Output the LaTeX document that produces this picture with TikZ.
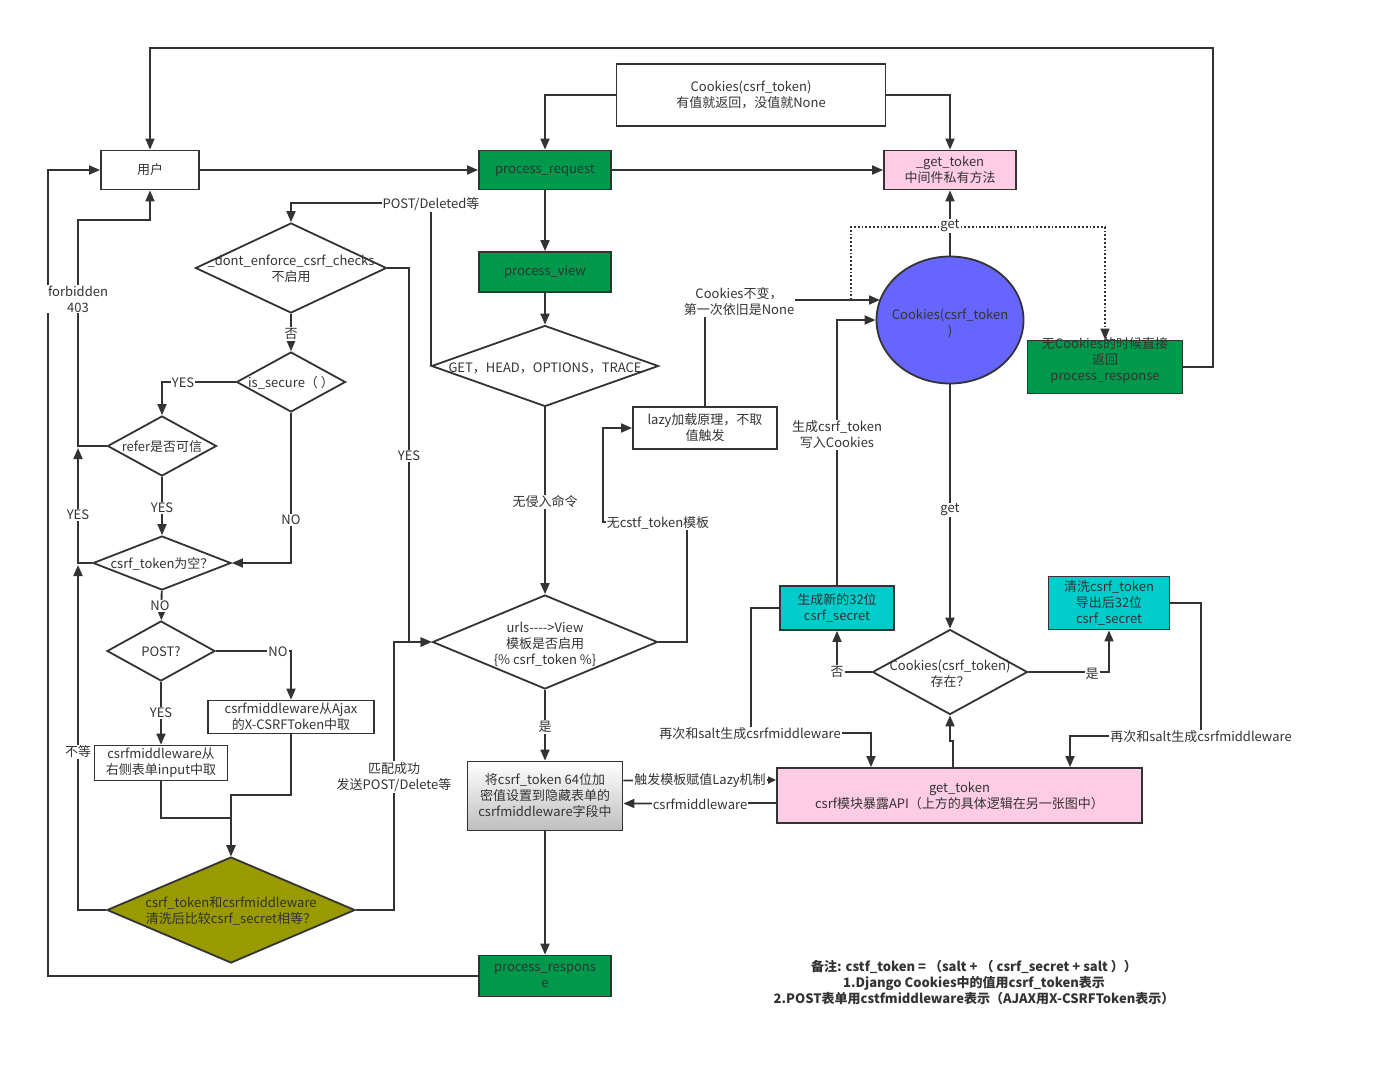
\documentclass[tikz,border=0pt]{standalone}
\usepackage{fontspec}
\setmainfont{Noto Sans CJK SC}
\usetikzlibrary{arrows.meta,shapes.geometric}
\definecolor{ln}{HTML}{333333}
\definecolor{grn}{HTML}{00994C}
\definecolor{pnk}{HTML}{FFCCE6}
\definecolor{cyn}{HTML}{00CCCC}
\definecolor{blu}{HTML}{6666FF}
\definecolor{olv}{HTML}{999900}
\definecolor{gbot}{HTML}{BEBEBE}
\begin{document}
\begin{tikzpicture}[x=1pt,y=-1pt,line width=1.8pt,draw=ln,text=ln,
  >={Triangle[length=11pt,width=9pt]},
  font=\fontsize{13}{16}\selectfont,
  box/.style={rectangle,draw=ln,line width=1.8pt,inner sep=0pt,align=center},
  dia/.style={diamond,draw=ln,line width=1.8pt,inner sep=0pt},
  txt/.style={align=center,inner sep=0pt},
  lbl/.style={fill=white,inner sep=1pt,align=center},
  con/.style={->,draw=ln,line width=1.8pt},
  dot/.style={->,draw=ln,line width=1.8pt,dotted}]
\useasboundingbox (0,0) rectangle (1375,1069);

% ---------- boxes ----------
\node[box,minimum width=98pt,minimum height=39pt] (user) at (150,170) {用户};
\node[box,fill=grn,minimum width=132pt,minimum height=39pt] (preq) at (545,170) {process\_request};
\node[box,minimum width=269pt,minimum height=62pt] (ctop) at (751,95) {Cookies(csrf\_token)\\有值就返回，没值就None};
\node[box,fill=pnk,minimum width=132pt,minimum height=39pt] (gtok) at (950,170) {\_get\_token\\中间件私有方法};
\node[box,fill=grn,minimum width=132pt,minimum height=40pt] (pview) at (545,272) {process\_view};
\node[box,minimum width=144pt,minimum height=42pt] (lazy) at (705,428) {lazy加载原理，不取\\值触发};
\node[box,minimum width=166pt,minimum height=33pt] (ajax) at (291,717) {csrfmiddleware从Ajax\\的X-CSRFToken中取};
\node[box,minimum width=133pt,minimum height=35pt] (form) at (161,763) {csrfmiddleware从\\右侧表单input中取};
\node[box,top color=white,bottom color=gbot,minimum width=155pt,minimum height=69pt] (gray) at (545,796) {将csrf\_token 64位加\\密值设置到隐藏表单的\\csrfmiddleware字段中};
\node[box,fill=grn,minimum width=132pt,minimum height=41pt] (presp) at (545,976) {process\_respons\\e};
\node[box,fill=grn,minimum width=155pt,minimum height=53pt] (nock) at (1105,367) {};
\node[txt] (nockt) at (1105,360) {无Cookies的时候直接\\返回\\process\_response};
\node[box,fill=cyn,minimum width=114pt,minimum height=44pt] (newsec) at (837,608) {生成新的32位\\csrf\_secret};
\node[box,fill=cyn,minimum width=121pt,minimum height=53pt] (clean) at (1109,603) {清洗csrf\_token\\导出后32位\\csrf\_secret};
\node[box,fill=pnk,minimum width=365pt,minimum height=55pt] (gtok2) at (959.5,795.5) {get\_token\\csrf模块暴露API（上方的具体逻辑在另一张图中）};
\node[ellipse,draw=ln,line width=1.8pt,fill=blu,inner sep=0pt,minimum width=147pt,minimum height=127pt] (circ) at (950,320) {};
\node[txt] (circt) at (950,323) {Cookies(csrf\_token\\)};

% ---------- diamonds ----------
\node[dia,minimum width=227pt,minimum height=81pt] (get) at (545,366) {};
\node[txt] (gett) at (545,368) {GET，HEAD，OPTIONS，TRACE};
\node[dia,minimum width=191pt,minimum height=90pt] (dont) at (291,268) {};
\node[txt] (dontt) at (291,269) {\_dont\_enforce\_csrf\_checks\\不启用};
\node[dia,minimum width=109pt,minimum height=60pt] (issec) at (291,382) {};
\node[txt] (issect) at (291,383) {is\_secure（ ）};
\node[dia,minimum width=109pt,minimum height=60pt] (refer) at (162,446) {};
\node[txt] (refert) at (162,447) {refer是否可信};
\node[dia,minimum width=138pt,minimum height=54pt] (csre) at (162,563) {};
\node[txt] (csret) at (162,564) {csrf\_token为空？};
\node[dia,minimum width=108pt,minimum height=60pt] (post) at (161,651) {};
\node[txt] (postt) at (161,652) {POST?};
\node[dia,fill=olv,minimum width=248pt,minimum height=106pt] (olive) at (231,910) {};
\node[txt] (olivet) at (231,911) {csrf\_token和csrfmiddleware\\清洗后比较csrf\_secret相等？};
\node[dia,minimum width=225pt,minimum height=94pt] (urls) at (545,642) {};
\node[txt] (urlst) at (545,644) {urls-{}-{}-{}->View\\模板是否启用\\\{\% csrf\_token \%\}};
\node[dia,minimum width=155pt,minimum height=85pt] (exist) at (950,672) {};
\node[txt] (existt) at (950,674) {Cookies(csrf\_token)\\存在？};

% ---------- connectors ----------
\draw[con] (user) -- (preq);
\draw[con] (preq) -- (gtok);
\draw[con] (ctop.west) -| (preq.north);
\draw[con] (ctop.east) -| (gtok.north);
\draw[con] (preq) -- (pview);
\draw[con] (pview) -- (get);
\draw[con] (get.west) |- (291,203) -- (dont.north);
\draw[con] (get) -- (urls);
\draw[con] (dont.east) -- (409,268) -- (409,642) -- (urls.west);
\draw[con] (dont) -- (issec);
\draw[con] (issec.west) -| (refer.north);
\draw[con] (issec.south) |- (csre.east);
\draw[con] (refer) -- (csre);
\draw[con] (refer.west) -| (78,220) -| (user.south);
\draw[con] (csre) -- (post);
\draw[con] (csre.west) -| (78,448);
\draw[con] (post) -- (form);
\draw[con] (post.east) -| (ajax.north);
\draw[con] (form.south) |- (231,818) -- (olive.north);
\draw[con] (ajax.south) |- (231,795) -- (olive.north);
\draw[con] (olive.west) -| (78,565);
\draw[con] (olive.east) -| (394,642) -- (urls.west);
\draw[con] (urls) -- (gray);
\draw[con] (urls.east) -| (687,522) -| (603,428) -- (lazy.west);
\draw[con] (lazy.north) |- (880,300);
\draw[con] (gray) -- (presp);
\draw[con] (presp.west) -| (48,170) -- (user.west);
\draw[con] (nock.east) -| (1213,48) -| (user.north);
\coordinate (dstart) at (851,300);
\draw[dot,line width=1.6pt] (dstart) -- (851,227) -| (nock.north);
\draw[con] (circ) -- (gtok);
\draw[con] (newsec.north) |- (circ.west);
\draw[con] (circ) -- (exist);
\draw[con] (exist.west) -| (newsec.south);
\draw[con] (exist.east) -| (clean.south);
\draw[con] (newsec.west) -| (751,733) -| ([xshift=-88.5pt]gtok2.north);
\draw[con] (clean.east) -| (1201,736) -| ([xshift=110.5pt]gtok2.north);
\draw[con] ([xshift=-6.5pt]gtok2.north) |- (950,741) -- (exist.south);
\draw[->,>={Triangle[length=8pt,width=7pt]}] ([yshift=15.5pt]gray.east) -- ([yshift=15.5pt]gtok2.west);
\draw[con] ([yshift=-7.5pt]gtok2.west) -- ([yshift=-7.5pt]gray.east);

% ---------- labels ----------
\node[lbl] (l1) at (431,204) {POST/Deleted等};
\node[lbl] (l2) at (545,502) {无侵入命令};
\node[lbl] (l3) at (409,456) {YES};
\node[lbl] (l4) at (291,334) {否};
\node[lbl] (l5) at (183,383) {YES};
\node[lbl] (l6) at (291,520) {NO};
\node[lbl] (l7) at (162,508) {YES};
\node[lbl] (l8) at (78,299) {forbidden\\403};
\node[lbl] (l9) at (160,606) {NO};
\node[lbl] (l10) at (78,515) {YES};
\node[lbl] (l11) at (161,713) {YES};
\node[lbl] (l12) at (278,652) {NO};
\node[lbl] (l13) at (78,752) {不等};
\node[lbl] (l14) at (394,777) {匹配成功\\发送POST/Delete等};
\node[lbl] (l15) at (545,727) {是};
\node[lbl] (l16) at (658,523) {无cstf\_token模板};
\node[lbl] (l17) at (739,302) {Cookies不变，\\第一次依旧是None};
\node[lbl] (l18) at (950,226) {get};
\node[lbl] (l19) at (837,435) {生成csrf\_token\\写入Cookies};
\node[lbl] (l20) at (950,510) {get};
\node[lbl] (l21) at (837,672) {否};
\node[lbl] (l22) at (1092,674) {是};
\node[lbl] (l23) at (750,734) {再次和salt生成csrfmiddleware};
\node[lbl] (l24) at (1201,737) {再次和salt生成csrfmiddleware};
\node[lbl] (l25) at (700,781) {触发模板赋值Lazy机制};
\node[lbl] (l26) at (700,804) {csrfmiddleware};

% ---------- note ----------
\node[txt,font=\fontsize{13}{16}\selectfont\bfseries] (note) at (974,983) {备注: cstf\_token = （salt + （ csrf\_secret + salt ））\\1.Django Cookies中的值用csrf\_token表示\\2.POST表单用cstfmiddleware表示（AJAX用X-CSRFToken表示）};
\end{tikzpicture}
\end{document}
